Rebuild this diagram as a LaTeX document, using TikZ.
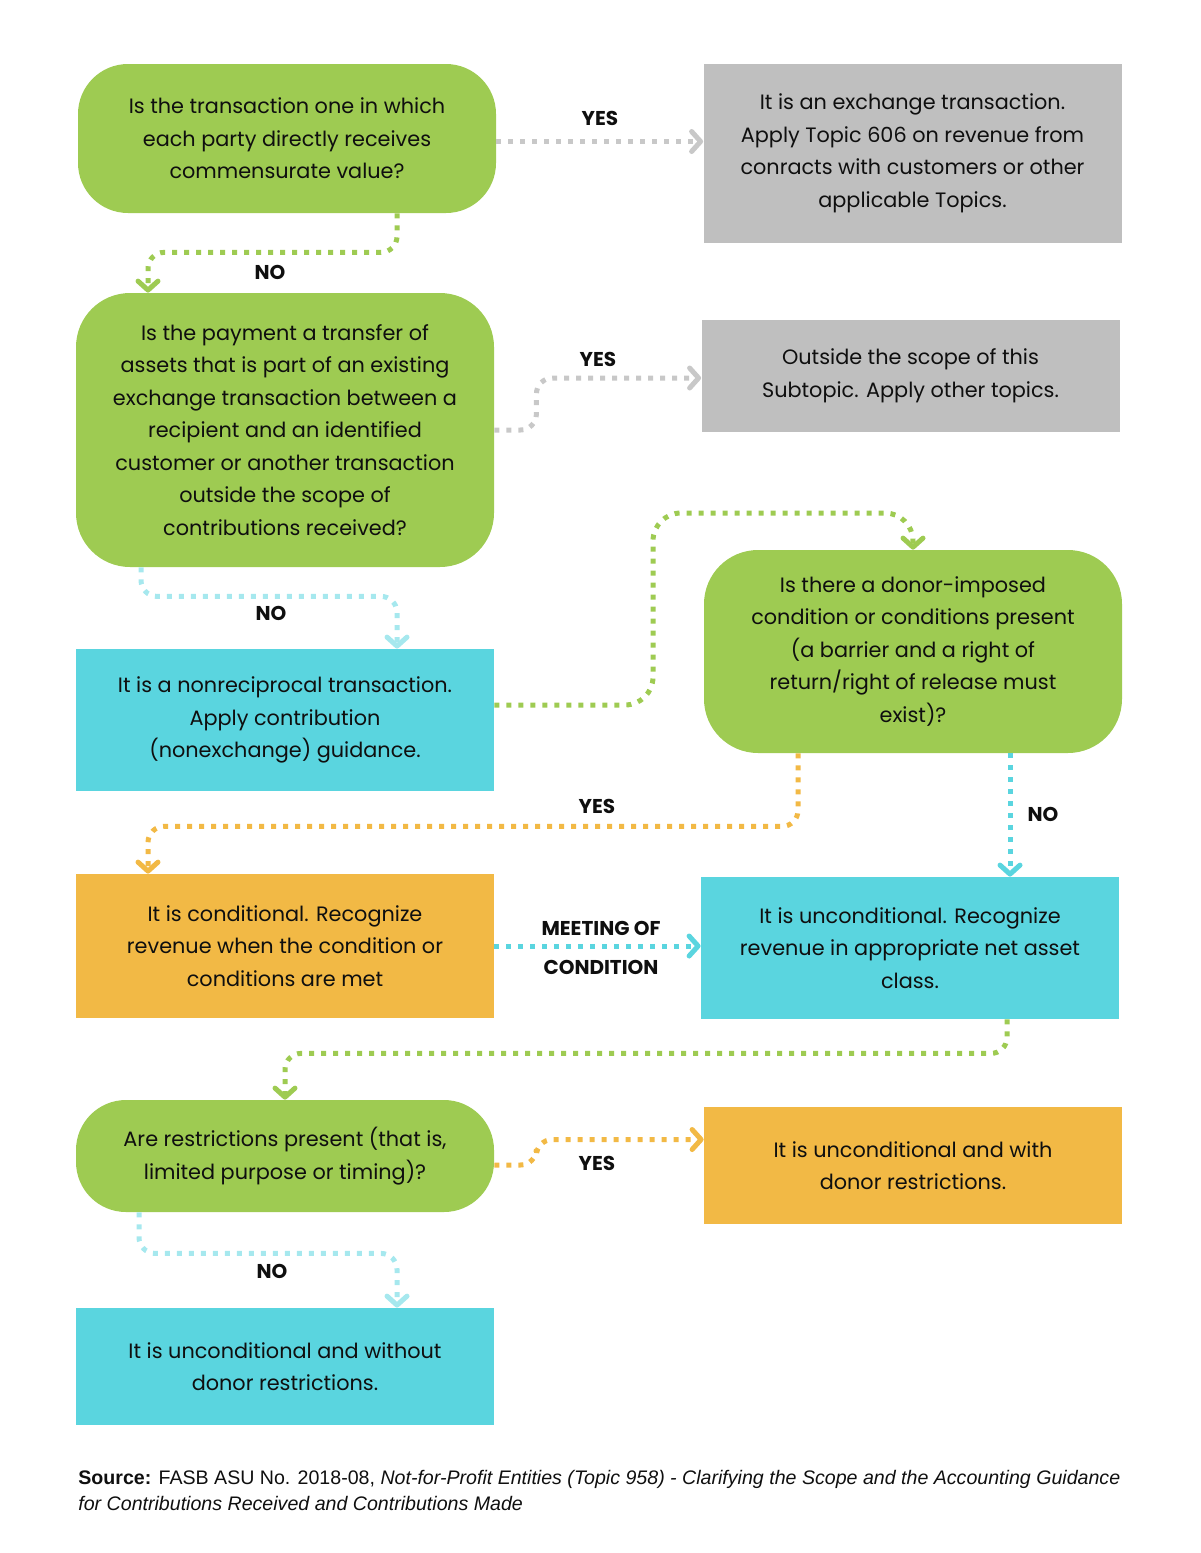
\documentclass[tikz,border=0pt]{standalone}
\usepackage{fontspec}
\setmainfont{Poppins}
\newfontfamily\srcfont{Liberation Sans}
\usetikzlibrary{arrows.meta,calc}
\definecolor{cgreen}{RGB}{158,203,82}
\definecolor{cgray}{RGB}{191,191,191}
\definecolor{ccyan}{RGB}{90,213,223}
\definecolor{corange}{RGB}{242,185,69}
\definecolor{lgray}{RGB}{200,200,200}
\definecolor{lcyan}{RGB}{166,232,238}
\definecolor{ink}{RGB}{15,15,15}
\tikzset{
  box/.style={rectangle,inner sep=0pt,minimum width=209pt,align=center,text=ink,
    font=\fontsize{10.4}{16.25}\selectfont},
  gbox/.style={box,fill=cgreen,rounded corners=25pt},
  graybox/.style={box,fill=cgray},
  cbox/.style={box,fill=ccyan},
  obox/.style={box,fill=corange},
  conn/.style={line width=2.5pt,dash pattern=on 2.5pt off 3.5pt,rounded corners=8pt,
    -{Straight Barb[length=4.5pt,width=10pt,round]}},
  lab/.style={font=\fontsize{10}{13}\selectfont\bfseries,text=ink,inner sep=0pt,align=center},
}
\begin{document}
\begin{tikzpicture}[x=0.5pt,y=-0.5pt]
\useasboundingbox (0,0) rectangle (1200,1553);
% boxes
\node[gbox,minimum height=74.5pt] (b1) at (287,138.5) {Is the transaction one in which\\each party directly receives\\commensurate value?};
\node[graybox,minimum height=89.5pt] (b2) at (912.5,153.5) {It is an exchange transaction.\\Apply Topic 606 on revenue from\\conracts with customers or other\\applicable Topics.};
\node[gbox,minimum height=137pt,rounded corners=27pt] (b3) at (285,430) {Is the payment a transfer of\\assets that is part of an existing\\exchange transaction between a\\recipient and an identified\\customer or another transaction\\outside the scope of\\contributions received?};
\node[graybox,minimum height=56pt] (b4) at (910.5,376) {Outside the scope of this\\Subtopic. Apply other topics.};
\node[cbox,minimum height=71pt] (b5) at (285,720) {It is a nonreciprocal transaction.\\Apply contribution\\(nonexchange) guidance.};
\node[gbox,minimum height=101.5pt,rounded corners=27pt] (b6) at (913,651.5) {Is there a donor-imposed\\condition or conditions present\\(a barrier and a right of\\return/right of release must\\exist)?};
\node[obox,minimum height=72pt] (b7) at (285,946) {It is conditional. Recognize\\revenue when the condition or\\conditions are met};
\node[cbox,minimum height=71pt] (b8) at (910,948) {It is unconditional. Recognize\\revenue in appropriate net asset\\class.};
\node[gbox,minimum height=56pt] (b9) at (285,1156) {Are restrictions present (that is,\\limited purpose or timing)?};
\node[obox,minimum height=58.5pt] (b10) at (913,1165.5) {It is unconditional and with\\donor restrictions.};
\node[cbox,minimum height=58.5pt] (b11) at (285,1366.5) {It is unconditional and without\\donor restrictions.};
% connectors
\draw[conn,lgray] ([yshift=-1.5pt]b1.east) -- ([yshift=-1.5pt]b1.east -| b2.west);
\draw[conn,cgreen] ([xshift=55pt]b1.south) -- ++(0,39) -| ([xshift=-68.5pt]b3.north);
\draw[conn,lgray] (b3.east) -- ++(42,0) |- ([yshift=-1pt]b4.west);
\draw[conn,lcyan] ([xshift=-72pt]b3.south) -- ++(0,29) -| ([xshift=56pt]b5.north);
\coordinate (c5) at (653,513);
\draw[conn,cgreen,rounded corners=14pt] ([yshift=7.5pt]b5.east) -| (c5) -| (b6.north);
\draw[conn,corange] ([xshift=-57.5pt]b6.south) -- ++(0,73) -| ([xshift=-68.5pt]b7.north);
\draw[conn,ccyan] ([xshift=48.5pt]b6.south) coordinate (s7) -- (s7 |- b8.north);
\draw[conn,ccyan] (b7.east) -- (b7.east -| b8.west);
\draw[conn,cgreen] ([xshift=48.5pt]b8.south) -- ++(0,34) -| (b9.north);
\draw[conn,corange] ([yshift=-4.5pt]b9.east) -- ++(42,0) |- ([yshift=13pt]b10.west);
\draw[conn,lcyan] ([xshift=-73pt]b9.south) -- ++(0,41) -| ([xshift=56pt]b11.north);
% labels
\node[lab] (l1) at (600,118) {YES};
\node[lab] (l2) at (270,272) {NO};
\node[lab] (l3) at (598,359) {YES};
\node[lab] (l4) at (271,613) {NO};
\node[lab] (l5) at (597,806) {YES};
\node[lab] (l6) at (1043,814) {NO};
\node[lab] (l7) at (601,928) {MEETING OF};
\node[lab] (l8) at (601,967) {CONDITION};
\node[lab] (l9) at (597,1163) {YES};
\node[lab] (l10) at (272,1271) {NO};
% source
\node[anchor=north west,inner sep=0pt,align=left,text=ink,
  font=\srcfont\fontsize{9.8}{13}\selectfont] (src) at (78,1470)
  {\textbf{Source:} FASB ASU No. 2018-08, \textit{Not-for-Profit Entities (Topic 958) - Clarifying the Scope and the Accounting Guidance}\\\textit{for Contributions Received and Contributions Made}};
\end{tikzpicture}
\end{document}
